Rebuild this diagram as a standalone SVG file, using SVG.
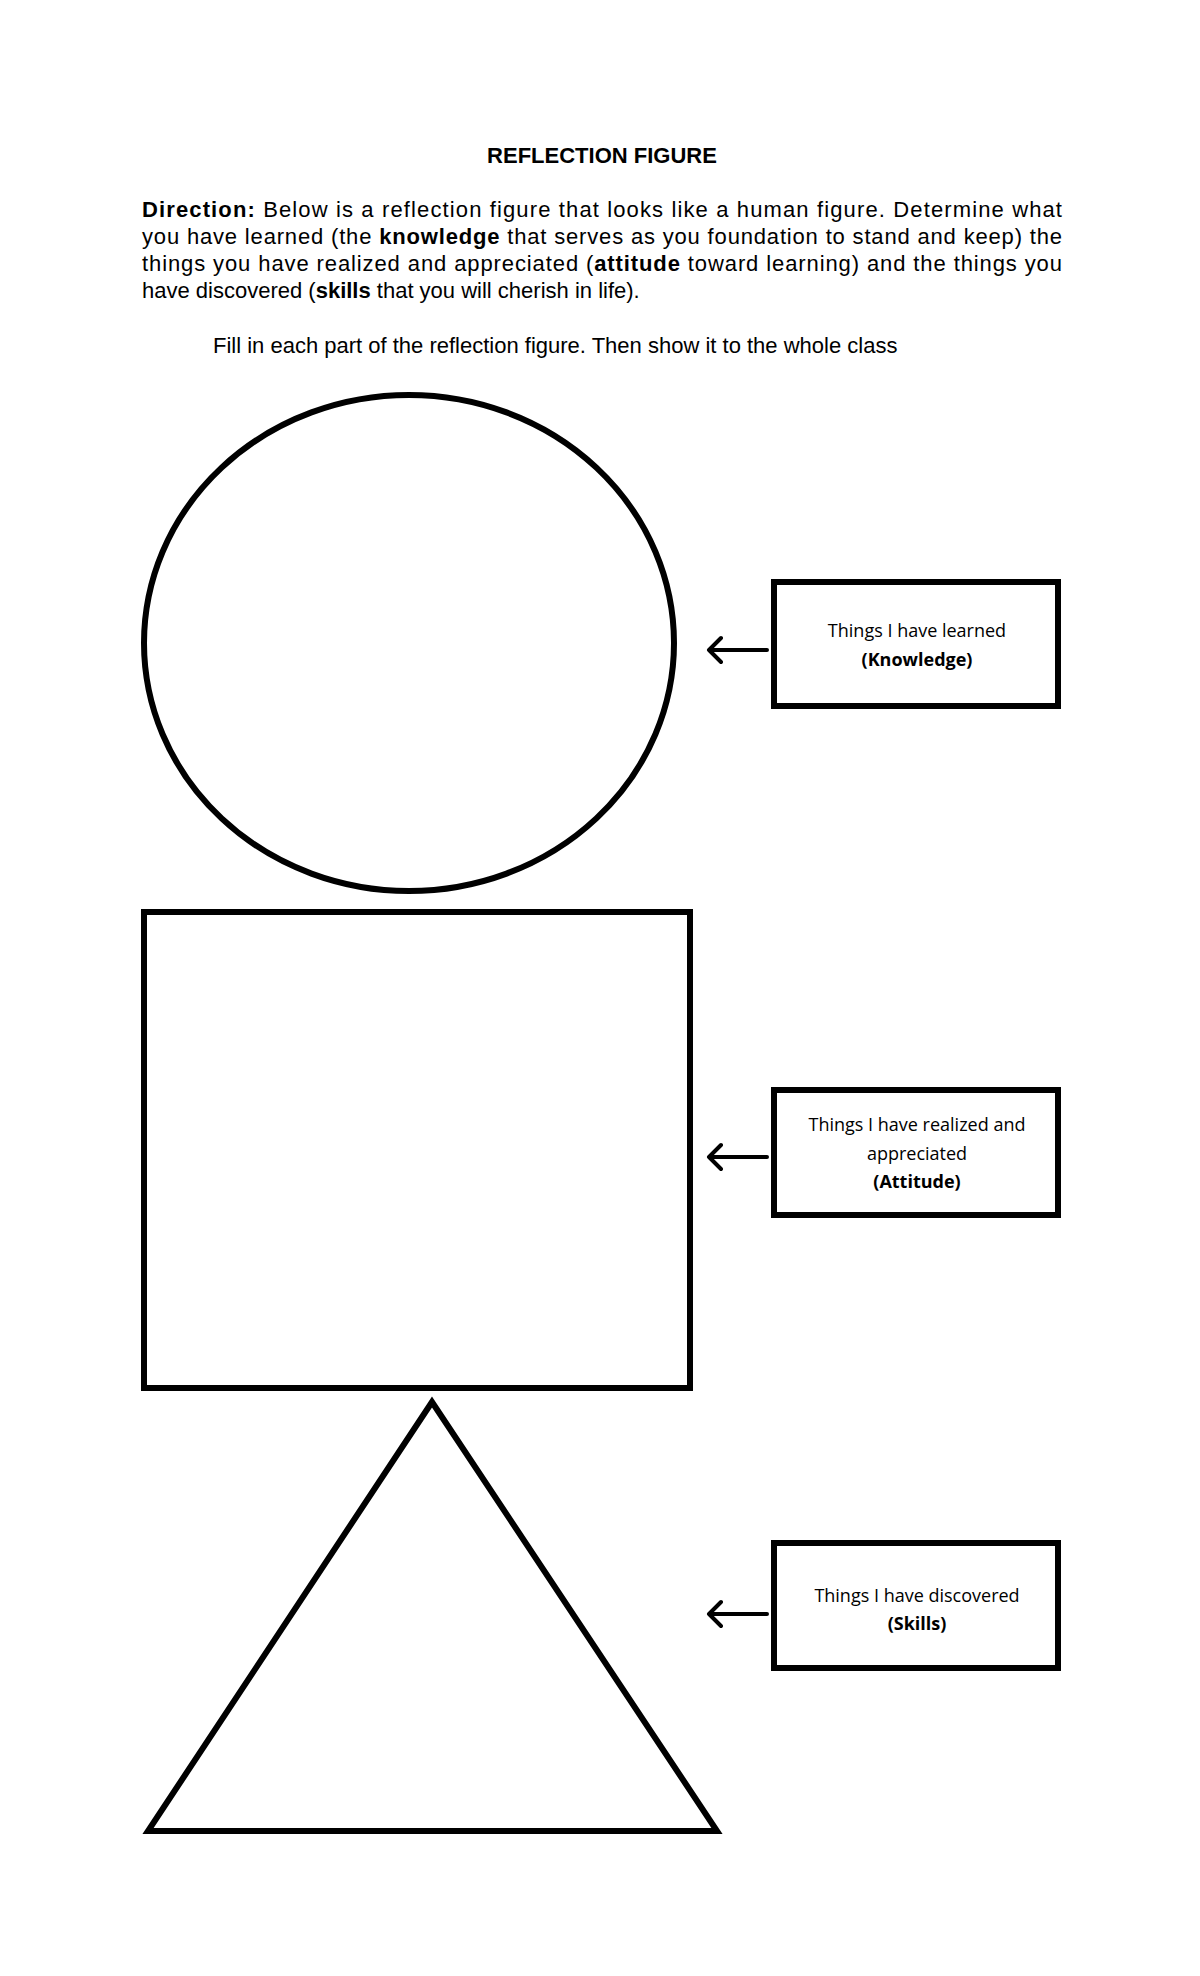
<svg xmlns="http://www.w3.org/2000/svg" width="1200" height="1976" viewBox="0 0 1200 1976">
<style>
.t{font-family:"Liberation Sans",Arial,sans-serif;font-size:22px;fill:#000}
.b{font-weight:bold}
.s{fill:none;stroke:#000;stroke-width:6}
.bx{fill:#fff;stroke:#000;stroke-width:6}
.l{font-family:"Open Sans","Noto Sans",sans-serif;font-size:18px;fill:#000;text-anchor:middle}
.a{fill:none;stroke:#000;stroke-width:4;stroke-linecap:round;stroke-linejoin:round}
</style>
<rect width="1200" height="1976" fill="#fff"/>
<text class="t b" x="602" y="163" text-anchor="middle">REFLECTION FIGURE</text>
<text class="t" x="142" y="217" textLength="920" lengthAdjust="spacing"><tspan class="b">Direction:</tspan> Below is a reflection figure that looks like a human figure. Determine what</text>
<text class="t" x="142" y="244" textLength="920" lengthAdjust="spacing">you have learned (the <tspan class="b">knowledge</tspan> that serves as you foundation to stand and keep) the</text>
<text class="t" x="142" y="271" textLength="920" lengthAdjust="spacing">things you have realized and appreciated (<tspan class="b">attitude</tspan> toward learning) and the things you</text>
<text class="t" x="142" y="298">have discovered (<tspan class="b">skills</tspan> that you will cherish in life).</text>
<text class="t" x="213" y="353">Fill in each part of the reflection figure. Then show it to the whole class</text>
<g id="head"><ellipse class="s" cx="409" cy="643" rx="265" ry="248"/></g>
<g id="body"><rect class="s" x="144" y="912" width="546" height="476"/></g>
<g id="legs"><polygon class="s" points="432,1402 148,1831 717,1831"/></g>
<g id="knowledge"><rect class="bx" x="774" y="582" width="284" height="124"/>
<text class="l" x="917" y="637">Things I have learned</text><text class="l b" x="917" y="666" font-weight="bold">(Knowledge)</text></g>
<g id="attitude"><rect class="bx" x="774" y="1090" width="284" height="125"/>
<text class="l" x="917" y="1131">Things I have realized and</text><text class="l" x="917" y="1160">appreciated</text><text class="l" x="917" y="1188" font-weight="bold">(Attitude)</text></g>
<g id="skills"><rect class="bx" x="774" y="1543" width="284" height="125"/>
<text class="l" x="917" y="1602">Things I have discovered</text><text class="l" x="917" y="1630" font-weight="bold">(Skills)</text></g>
<g id="connectors">
<path class="a" d="M767,650H709M721,638L709,650L721,662"/>
<path class="a" d="M767,1157H709M721,1145L709,1157L721,1169"/>
<path class="a" d="M767,1614H709M721,1602L709,1614L721,1626"/>
</g>
</svg>
